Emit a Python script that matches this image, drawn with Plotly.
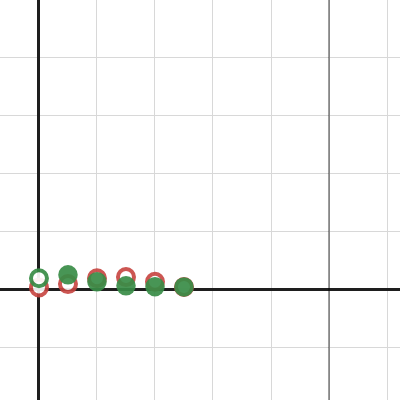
import plotly.graph_objects as go

# point data (graph units)
x_vals = [0, 0.5, 1, 1.5, 2, 2.5]
red_y = [0.03, 0.09, 0.19, 0.21, 0.13, 0.04]
green_y = [0.19, 0.25, 0.13, 0.06, 0.045, 0.04]
green_open = [True, False, False, False, False, False]
vline_x = [5]

RED = "#c74440"
GREEN = "#388c46"

fig = go.Figure()

# vertical line x = 5
fig.add_trace(go.Scatter(
    x=[vline_x[0], vline_x[0]], y=[-10, 10], mode="lines",
    line=dict(color="rgba(0,0,0,0.38)", width=2), hoverinfo="skip"))

fig.add_trace(go.Scatter(
    x=x_vals, y=red_y, mode="markers",
    marker=dict(size=16, color="white", opacity=0.9,
                line=dict(color=RED, width=4))))

fig.add_trace(go.Scatter(
    x=x_vals, y=green_y, mode="markers",
    marker=dict(size=[16 if o else 19.5 for o in green_open],
                color=["white" if o else GREEN for o in green_open],
                opacity=0.92,
                line=dict(color=GREEN, width=[4 if o else 0 for o in green_open]))))

axis_style = dict(showticklabels=False, ticks="", dtick=1, tick0=0,
                  showgrid=True, gridcolor="#d8d8d8", gridwidth=1.2,
                  zeroline=True, zerolinecolor="#1e1e1e", zerolinewidth=2.6,
                  showline=False, fixedrange=True)

fig.update_layout(
    width=400, height=400,
    margin=dict(l=0, r=0, t=0, b=0),
    plot_bgcolor="white", paper_bgcolor="white",
    showlegend=False,
    xaxis=dict(range=[-0.672, 6.224], **axis_style),
    yaxis=dict(range=[-1.909, 4.988], **axis_style),
)

# the page has a default 8px body margin; drop it so the plot fills the window
fig.write_html("out.html", config={"displayModeBar": False},
               post_script="document.body.style.margin='0';")
